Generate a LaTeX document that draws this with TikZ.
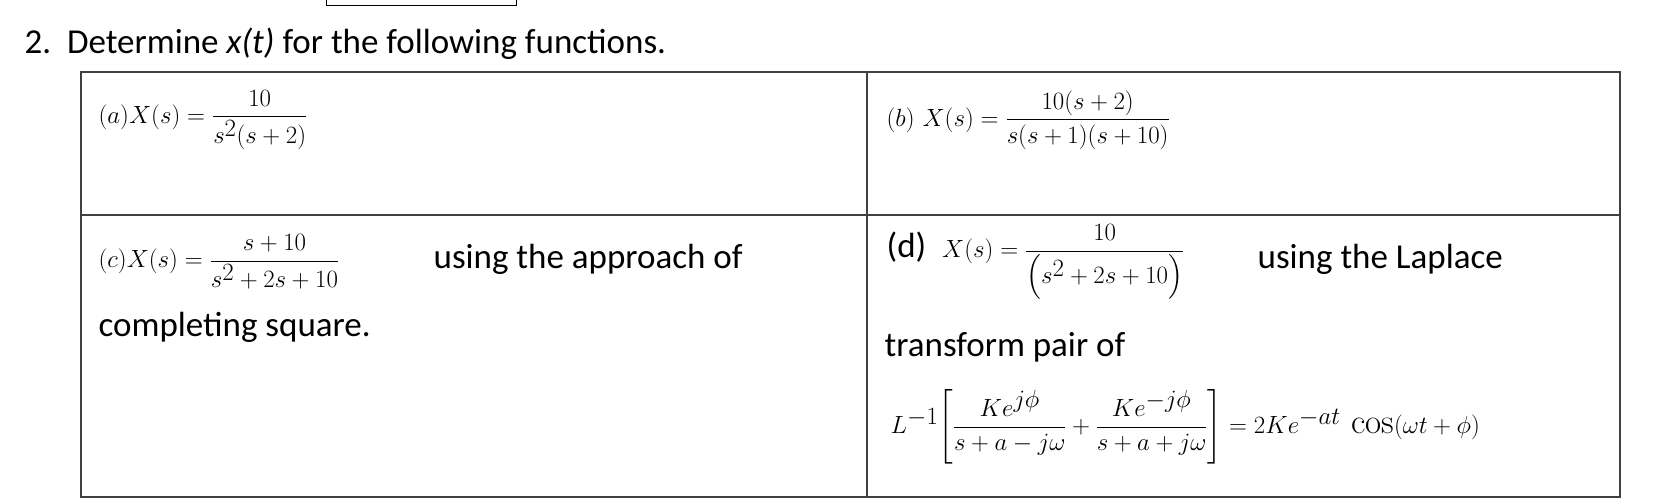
\documentclass[tikz,border=0pt]{standalone}
\usepackage{amsmath}
\usepackage{fontspec}
\setmainfont{Carlito}
\newfontfamily\lmr{Latin Modern Roman}
\begin{document}
\begin{tikzpicture}[x=1pt,y=-1pt,line width=1.3pt,
  txt/.style={anchor=west,inner sep=0pt,font=\fontsize{35}{40}\selectfont},
  mth/.style={anchor=west,inner sep=0pt,font=\fontsize{35}{40}\selectfont}]
\useasboundingbox (0,0) rectangle (1666,500);
\draw[line width=1pt] (326,0) -- (326,6) -- (516,6) -- (516,0);
\node[txt] (head) at (24,44) {2.\ \ Determine \textit{x(t)} for the following functions.};
\draw[draw=black!75] (81,72) rectangle (1620,497);
\draw[draw=black!75] (81,215) -- (1620,215);
\draw[draw=black!75] (867,72) -- (867,497);
\node[mth] (a) at (98,120) {$(a)X(s)=\dfrac{10}{s^2(s+2)}$};
\node[mth] (b) at (886,120) {$(b)\ X(s)=\dfrac{10(s+2)}{s(s+1)(s+10)}$};
\node[mth] (c) at (98,262) {$(c)X(s)=\dfrac{s+10}{s^2+2s+10}$};
\node[txt] (c2) at (433,259) {using the approach of};
\node[txt] (c3) at (98,327) {completing square.};
\node[mth] (d) at (886,262) {(d)\ \ $X(s)=\dfrac{10}{\left(s^2+2s+10\right)}$};
\node[txt] (d2) at (1257,259) {using the Laplace};
\node[txt] (d3) at (884,347) {transform pair of};
\node[mth] (e) at (890,427) {$L^{-1}\!\left[\dfrac{Ke^{j\phi}}{s+a-j\omega}+\dfrac{Ke^{-j\phi}}{s+a+j\omega}\right]=2Ke^{-at}\text{\lmr\ cos}(\omega t+\phi)$};
\end{tikzpicture}
\end{document}
